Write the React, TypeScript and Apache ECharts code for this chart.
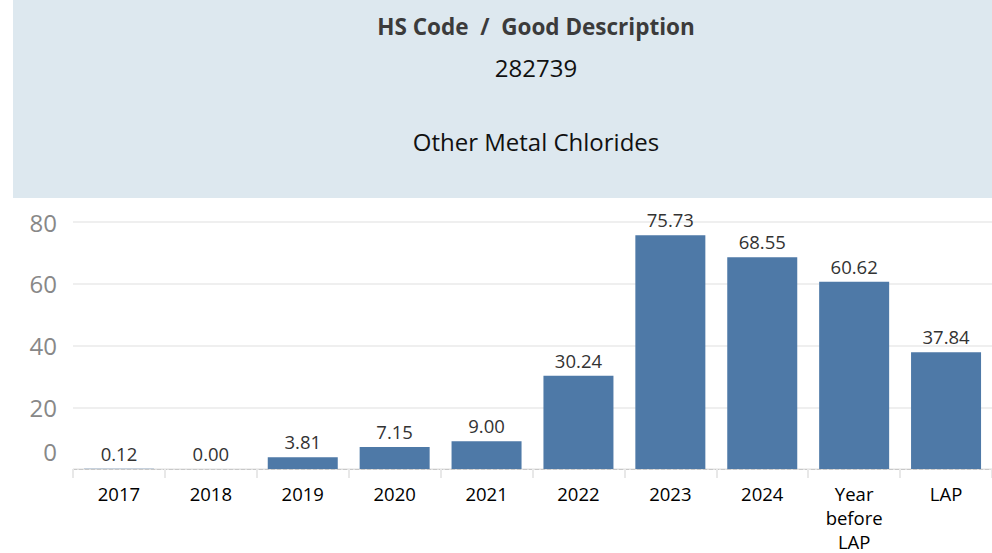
import React, { useEffect, useRef } from "react";
import * as echarts from "echarts";

const categories = ["2017", "2018", "2019", "2020", "2021", "2022", "2023", "2024", "Year\nbefore\nLAP", "LAP"];
const values = [0.12, 0.0, 3.81, 7.15, 9.0, 30.24, 75.73, 68.55, 60.62, 37.84];
const headerLines = ["HS Code  /  Good Description", "282739", "Other Metal Chlorides"];

const FONT = "'Open Sans', 'Noto Sans', sans-serif";

export default function App() {
  const ref = useRef<HTMLDivElement>(null);
  useEffect(() => {
    if (!ref.current) return;
    const chart = echarts.init(ref.current, null, { renderer: "svg" });
    chart.setOption({
      animation: false,
      backgroundColor: "#ffffff",
      graphic: [
        { type: "rect", z: -1, shape: { x: 13, y: 0, width: 1000, height: 198 }, style: { fill: "#dde8ef" } },
        { type: "text", x: 536, y: 26, style: { text: headerLines[0], fontFamily: FONT, fontSize: 22.5, fontWeight: "bold", fill: "#3b3b3b", align: "center", verticalAlign: "middle" } },
        { type: "text", x: 536, y: 67, style: { text: headerLines[1], fontFamily: FONT, fontSize: 24, fill: "#111", align: "center", verticalAlign: "middle" } },
        { type: "text", x: 536, y: 141, style: { text: headerLines[2], fontFamily: FONT, fontSize: 24, fill: "#111", align: "center", verticalAlign: "middle" } },
      ],
      grid: { left: 73, right: 0, top: 222, bottom: 79, containLabel: false },
      xAxis: {
        type: "category",
        data: categories,
        axisLine: { show: true, lineStyle: { color: "#c8c8c8", type: "dashed", width: 1 } },
        axisTick: { show: true, alignWithLabel: false, length: 9, lineStyle: { color: "#e8e8e8", width: 2 } },
        axisLabel: { margin: 12, fontFamily: FONT, fontSize: 18.5, color: "#000", lineHeight: 24, interval: 0 },
      },
      yAxis: {
        type: "value",
        min: 0,
        max: 80,
        interval: 20,
        axisLine: { show: false },
        axisTick: { show: false },
        splitLine: { lineStyle: { color: "#efefef", width: 2 } },
        axisLabel: {
          margin: 16,
          fontFamily: FONT,
          fontSize: 24,
          color: "#888",
          formatter: (v: number) => (v === 0 ? "{z|0}" : String(v)),
          rich: { z: { fontFamily: FONT, fontSize: 24, color: "#888", padding: [0, 0, 36, 0] } },
        },
      },
      series: [
        {
          type: "bar",
          data: values,
          barWidth: 70,
          itemStyle: { color: "#4e79a7" },
          label: {
            show: true,
            position: "top",
            distance: 6,
            fontFamily: FONT,
            fontSize: 18.5,
            color: "#333",
            formatter: (p: any) => Number(p.value).toFixed(2),
          },
        },
      ],
    });
    return () => chart.dispose();
  }, []);
  return <div ref={ref} style={{ width: 992, height: 553, position: "absolute", left: 0, top: 0 }} />;
}
